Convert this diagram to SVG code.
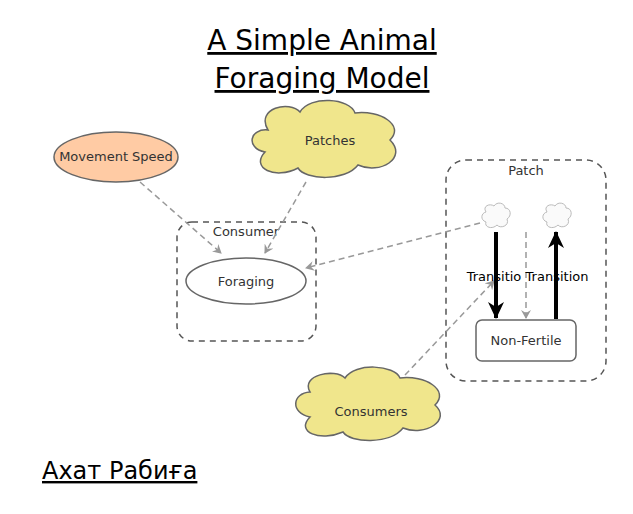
<svg xmlns="http://www.w3.org/2000/svg" width="633" height="514" viewBox="0 0 633 514">
<style>
text{font-family:"DejaVu Sans",sans-serif;fill:#333}
.t{font-size:28px;fill:#000;text-decoration:underline}
.n{font-size:13px}
.d{stroke:#999;stroke-width:1.5;stroke-dasharray:6 4;fill:none}
.cl{fill:#f0e68c;stroke:#666;stroke-width:1.5}
.cont{fill:none;stroke:#555;stroke-width:1.5;stroke-dasharray:6 5}
.sc{fill:#fafafa;stroke:#bbb;stroke-width:1}
</style>
<defs>
<marker id="g" markerWidth="10" markerHeight="10" refX="8" refY="5" orient="auto" markerUnits="userSpaceOnUse"><path d="M0,0L9,5L0,10L3,5z" fill="#999"/></marker>
<marker id="b" markerWidth="20" markerHeight="20" refX="16" refY="8" orient="auto" markerUnits="userSpaceOnUse"><path d="M0,0L17,8L0,16L5,8z" fill="#000"/></marker>
</defs>
<rect width="633" height="514" fill="#fff"/>
<text class="t" x="322" y="50" text-anchor="middle">A Simple Animal</text>
<text class="t" x="322" y="88" text-anchor="middle">Foraging Model</text>
<text class="t" x="42" y="479" style="font-size:24px">Ахат Рабиға</text>
<g id="consumer"><rect class="cont" x="177" y="222" width="139" height="119" rx="15"/><text class="n" x="246" y="236" text-anchor="middle">Consumer</text></g>
<g id="patch"><rect class="cont" x="446" y="160" width="160" height="221" rx="20"/><text class="n" x="526" y="175" text-anchor="middle">Patch</text></g>
<g id="movement"><ellipse cx="116" cy="157" rx="62" ry="25" fill="#ffcba4" stroke="#666" stroke-width="1.5"/><text class="n" x="116" y="161" text-anchor="middle">Movement Speed</text></g>
<g id="patches"><path class="cl" d="M268,130 C255,108 290,100 300,112 C310,95 350,98 355,113 C380,110 405,125 390,140 C408,158 380,175 358,165 C345,182 305,180 298,168 C275,180 250,168 265,152 C245,148 250,128 268,130z"/><text class="n" x="330" y="145" text-anchor="middle">Patches</text></g>
<g id="consumers"><path class="cl" d="M310,392 C300,375 335,368 345,378 C355,362 395,365 400,378 C425,375 450,390 435,405 C452,420 425,437 403,428 C390,445 350,443 343,432 C320,442 295,432 310,417 C290,413 292,393 310,392z"/><text class="n" x="371" y="416" text-anchor="middle">Consumers</text></g>
<g id="foraging"><ellipse cx="246" cy="281" rx="60" ry="23" fill="#fff" stroke="#666" stroke-width="1.5"/><text class="n" x="246" y="286" text-anchor="middle">Foraging</text></g>
<g id="nonfertile"><rect x="476" y="320" width="100" height="41" rx="6" fill="#fff" stroke="#666" stroke-width="1.5"/><text class="n" x="526" y="345" text-anchor="middle">Non-Fertile</text></g>
<g id="src1"><path class="sc" d="M486,212 C482,206 490,203 494,206 C497,201 505,203 505,208 C511,208 512,216 507,219 C510,226 500,229 497,225 C492,230 484,227 486,222 C480,220 481,213 486,212z"/></g>
<g id="src2"><path class="sc" d="M547,212 C543,206 551,203 555,206 C558,201 566,203 566,208 C572,208 573,216 568,219 C571,226 561,229 558,225 C553,230 545,227 547,222 C541,220 542,213 547,212z"/></g>
<g id="connectors">
<line class="d" x1="140" y1="182" x2="221" y2="253" marker-end="url(#g)"/>
<line class="d" x1="306" y1="182" x2="265" y2="253" marker-end="url(#g)"/>
<line class="d" x1="480" y1="223" x2="306" y2="268" marker-end="url(#g)"/>
<line class="d" x1="405" y1="375" x2="494" y2="281" marker-end="url(#g)"/>
<line class="d" x1="526" y1="232" x2="526" y2="318" marker-end="url(#g)"/>
<line x1="496" y1="232" x2="496" y2="318" stroke="#000" stroke-width="4" marker-end="url(#b)"/>
<line x1="556" y1="319" x2="556" y2="232" stroke="#000" stroke-width="4" marker-end="url(#b)"/>
<rect x="464" y="266" width="58" height="20" fill="#fff" opacity="0"/>
<text x="494" y="281" text-anchor="middle" style="font-size:13px;fill:#000">Transitio</text>
<text x="557" y="281" text-anchor="middle" style="font-size:13px;fill:#000">Transition</text>
</g>
</svg>
